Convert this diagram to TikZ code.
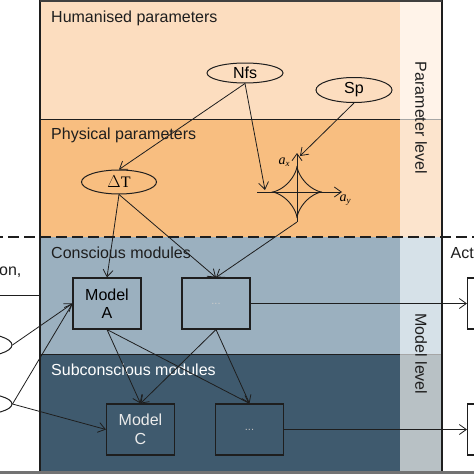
\documentclass[tikz,border=0pt]{standalone}
\usepackage{fontspec}
\setmainfont{Liberation Sans}
\newfontfamily\seriffont{Liberation Serif}
\usetikzlibrary{shapes.geometric,arrows.meta}
\definecolor{hum}{RGB}{252,221,191}
\definecolor{phy}{RGB}{248,190,128}
\definecolor{pstripT}{RGB}{255,243,233}
\definecolor{pstripB}{RGB}{252,228,205}
\definecolor{con}{RGB}{155,176,191}
\definecolor{mstripT}{RGB}{214,225,232}
\definecolor{sub}{RGB}{63,90,110}
\definecolor{mstripB}{RGB}{184,193,197}
\definecolor{ink}{RGB}{30,30,30}
\begin{document}
\begin{tikzpicture}[x=1pt,y=-1pt,
  font=\fontsize{16}{18.5}\selectfont,
  arr/.style={draw=ink, line width=0.8pt, -{Straight Barb[length=7pt,width=10pt]}},
  ell/.style={ellipse, draw=ink, line width=1pt, inner sep=0pt},
  mbox/.style={rectangle, draw=ink, line width=1.1pt, minimum width=68pt, minimum height=51pt, align=center, inner sep=0pt},
  region/.style={anchor=west, inner sep=0pt, text=ink},
  levellabel/.style={rotate=-90, inner sep=0pt, text=ink},
  dots/.style={font=\fontsize{11}{13}\selectfont}]
\clip (0,0) rectangle (474,474);
\fill[white] (0,0) rectangle (474,474);
% regions
\fill[hum] (40,0) rectangle (400,119);
\fill[phy] (40,119) rectangle (400,237);
\fill[pstripT] (400,0) rectangle (442,119);
\fill[pstripB] (400,119) rectangle (442,237);
\fill[con] (40,237) rectangle (400,354);
\fill[mstripT] (400,237) rectangle (442,354);
\fill[sub] (40,354) rectangle (400,471);
\fill[mstripB] (400,354) rectangle (442,471);
\draw[ink, line width=0.9pt] (40,119) -- (400,119);
\draw[black!35, line width=0.6pt] (400,119) -- (442,119);
\draw[ink, line width=0.9pt] (40,354) -- (400,354);
\draw[black!35, line width=0.6pt] (400,354) -- (442,354);
\draw[ink, line width=1.2pt] (40,0) -- (40,471);
\draw[ink, line width=1.2pt] (442,0) -- (442,471);
\draw[black!75, line width=4pt] (40,0) -- (442,0);
\fill[black!55] (0,471) rectangle (474,474);
\draw[ink, line width=0.8pt] (0,295) -- (40,295);
\draw[ink, line width=2.6pt, dash pattern=on 11pt off 5pt, dash phase=-8pt] (0,237) -- (474,237);
% region labels
\node[region] (thum) at (51,18) {Humanised parameters};
\node[region] (tphy) at (51,135) {Physical parameters};
\node[region] (tcon) at (51,253) {Conscious modules};
\node[region, text=white] (tsub) at (51,370) {Subconscious modules};
\node[levellabel] (tpl) at (421,118) {Parameter level};
\node[levellabel] (tml) at (421,354) {Model level};
\node[anchor=west, inner sep=0pt, text=ink] (ton) at (-1,272) {on,};
\node[anchor=west, inner sep=0pt, text=ink] (tact) at (450.5,253) {Act};
% parameter nodes
\node[ell, minimum width=76pt, minimum height=20pt] (nfs) at (245,73) {Nfs};
\node[ell, minimum width=76pt, minimum height=25pt] (sp) at (354,90) {Sp};
\node[ell, minimum width=75pt, minimum height=24pt, font=\seriffont\fontsize{16}{18}\selectfont] (dt) at (119,182) {$\Delta$T};
% astroid
\draw[ink, line width=0.9pt] plot[domain=0:360, samples=120, smooth cycle] ({297+25*cos(\x)*cos(\x)*cos(\x)},{192+26*sin(\x)*sin(\x)*sin(\x)});
\coordinate (axL) at (257,192);
\coordinate (axR) at (342,192);
\coordinate (axB) at (297,222);
\coordinate (axT) at (297,153);
\draw[arr] (axL) -- (axR);
\draw[arr] (axB) -- (axT);
\node[inner sep=0pt, font=\seriffont\fontsize{14}{16}\selectfont\itshape] (lax) at (284,162) {a\raisebox{-2pt}{\fontsize{9}{10}\selectfont x}};
\node[inner sep=0pt, font=\seriffont\fontsize{14}{16}\selectfont\itshape] (lay) at (345,200) {a\raisebox{-2pt}{\fontsize{9}{10}\selectfont y}};
\coordinate (axIn) at (265,190);
\coordinate (axTop) at (300,156);
% model nodes
\node[mbox] (ma) at (107,303.5) {Model\\A};
\node[mbox] (mb) at (216,303.5) {\textcolor{white!80!black}{\fontsize{11}{13}\selectfont ...}};
\node[mbox, text=white!92!black] (mc) at (140.5,429.5) {Model\\C};
\node[mbox] (md) at (249.5,429.5) {\textcolor{white!75!black}{\fontsize{11}{13}\selectfont ...}};
% outside nodes
\node[ell, minimum width=76pt, minimum height=24pt] (e1) at (-26,345) {};
\node[ell, minimum width=76pt, minimum height=22pt] (e2) at (-26,404) {};
\node[rectangle, draw=ink, line width=1.1pt, minimum width=40pt, minimum height=51pt, anchor=west] (r1) at (467,303.5) {};
\node[rectangle, draw=ink, line width=1.1pt, minimum width=40pt, minimum height=51pt, anchor=west] (r2) at (467,429.5) {};
% connectors
\draw[arr] (nfs.south) -- (dt.north);
\draw[arr] (nfs.south) -- (axIn);
\draw[arr] (sp.south) -- (axTop);
\draw[arr] (dt.south) -- (ma.north);
\draw[arr] (dt.south) -- (mb.north);
\draw[arr] (axB) -- (mb.north);
\draw[arr] (ma.south) -- (mc.north);
\draw[arr] (ma.south) -- (md.north);
\draw[arr] (mb.south) -- (mc.north);
\draw[arr] (mb.south) -- (md.north);
\draw[arr] (e1.east) -- (ma.west);
\draw[arr] (e2.east) -- (ma.west);
\draw[arr] (e2.east) -- (mc.west);
\draw[arr] (mb.east) -- (r1.west);
\draw[arr] (md.east) -- (r2.west);
\end{tikzpicture}
\end{document}
